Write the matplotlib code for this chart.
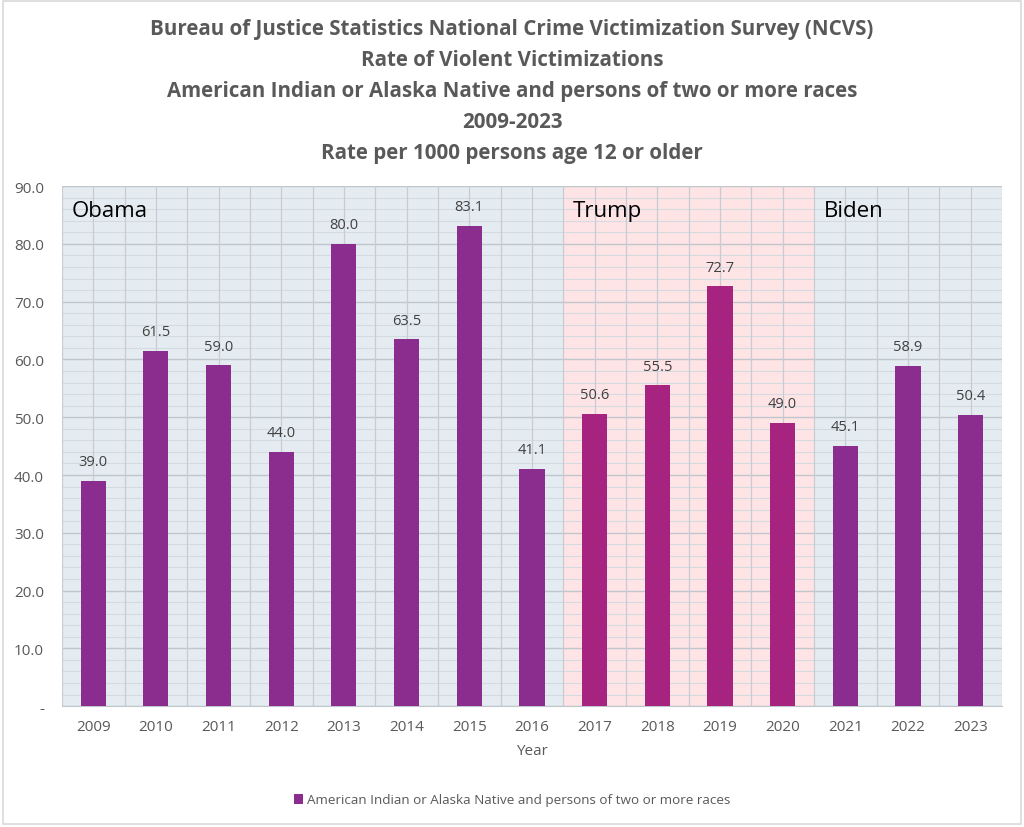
import matplotlib.pyplot as plt
import matplotlib.patches as patches
import numpy as np

plt.rcParams['font.family'] = ['Open Sans', 'DejaVu Sans']

years = ['2009', '2010', '2011', '2012', '2013', '2014', '2015', '2016',
         '2017', '2018', '2019', '2020', '2021', '2022', '2023']
rates = [39.0, 61.5, 59.0, 44.0, 80.0, 63.5, 83.1, 41.1,
         50.6, 55.5, 72.7, 49.0, 45.1, 58.9, 50.4]
presidents = ['Obama'] * 8 + ['Trump'] * 4 + ['Biden'] * 3

series_name = 'American Indian or Alaska Native and persons of two or more races'
title_lines = [
    'Bureau of Justice Statistics National Crime Victimization Survey (NCVS)',
    'Rate of Violent Victimizations',
    'American Indian or Alaska Native and persons of two or more races',
    '2009-2023',
    'Rate per 1000 persons age 12 or older',
]

bar_colors = {'Obama': '#8B2D8F', 'Trump': '#A6247F', 'Biden': '#8B2D8F'}
gray = '#595959'

fig = plt.figure(figsize=(10.24, 8.28), dpi=100)
ax = fig.add_axes([0.0605, 0.146, 0.918, 0.628])

x = np.arange(len(years))
ax.set_xlim(-0.5, len(years) - 0.5)
ax.set_ylim(0, 90)

# background panels: blue for Obama/Biden, pink for Trump
ax.set_facecolor('#E5ECF1')
trump_idx = [i for i, p in enumerate(presidents) if p == 'Trump']
ax.axvspan(trump_idx[0] - 0.5, trump_idx[-1] + 0.5, color='#FFE4E6', zorder=0)

# grid
for yv in np.arange(0, 91, 2):
    major = yv % 10 == 0
    ax.axhline(yv, color='#BFC6CC' if major else '#D3DAE0', lw=1.0 if major else 0.8, zorder=1)
for xv in np.arange(-0.5, len(years), 0.5):
    ax.axvline(xv, color='#C6CCD2', lw=0.9, zorder=1)

colors = [bar_colors[p] for p in presidents]
bars = ax.bar(x, rates, width=0.4, color=colors, zorder=3, label=series_name)

for xi, r in zip(x, rates):
    ax.text(xi, r + 2.0, f'{r:.1f}', ha='center', va='bottom', fontsize=10.5, color='#404040', zorder=4)

# president labels
for name in ['Obama', 'Trump', 'Biden']:
    first = presidents.index(name)
    ax.text(first - 0.35, 85.8, name, fontsize=16, color='black', va='center', ha='left', zorder=4)

ax.set_xticks(x)
ax.set_xticklabels(years)
ax.set_yticks(np.arange(0, 91, 10))
ax.set_yticklabels(['-'] + [f'{v:.1f}' for v in np.arange(10, 91, 10)])
ax.tick_params(axis='both', length=0, labelsize=11, colors=gray, pad=9)
ax.tick_params(axis='y', pad=13)
ax.set_xlabel('Year', fontsize=11, color=gray, labelpad=7)
for s in ax.spines.values():
    s.set_visible(False)
ax.spines['bottom'].set_visible(True)
ax.spines['bottom'].set_color('#BFC6CC')

# title
for i, line in enumerate(title_lines):
    fig.text(0.5, 1 - (30 + i * 31) / 828, line, ha='center', va='center',
             fontsize=14.8, fontweight='bold', color=gray)

# legend
fig.legend(handles=[bars], labels=[series_name], loc='center', bbox_to_anchor=(0.5, 1 - 801 / 828),
           frameon=False, fontsize=9.7, labelcolor=gray, handlelength=0.7, handleheight=0.7,
           handletextpad=0.3)

# figure border
fig.patches.append(patches.Rectangle((0.003, 0.004), 0.994, 0.993, transform=fig.transFigure,
                                     fill=False, edgecolor='#D9D9D9', lw=1.2))

fig.savefig('out.png', dpi=100, facecolor='white')
